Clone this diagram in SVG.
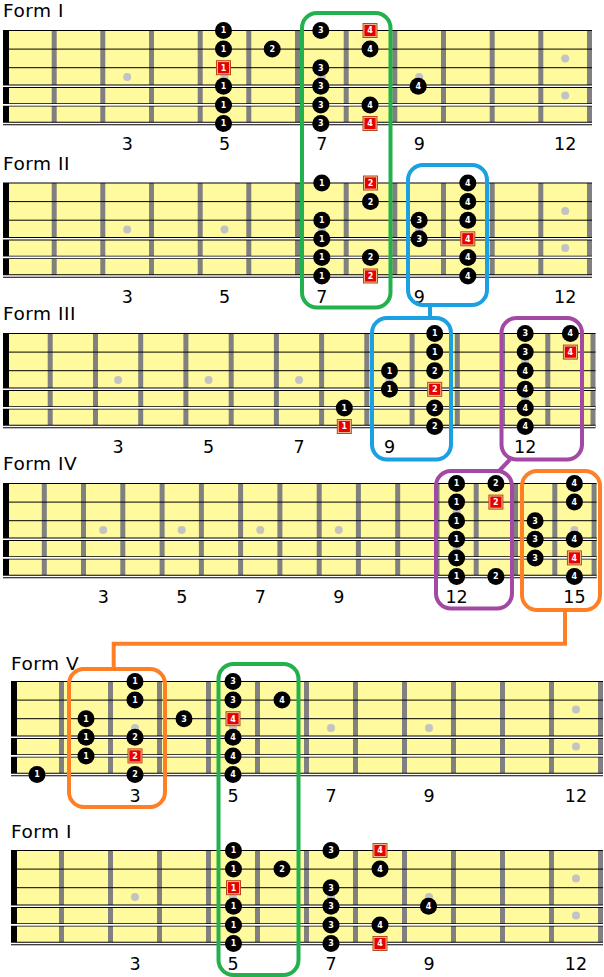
<svg xmlns="http://www.w3.org/2000/svg" xmlns:xlink="http://www.w3.org/1999/xlink" width="604" height="977" viewBox="0 0 604 977">
<style>
.bg{fill:#fff}
.bd{fill:#fffa9e}
.fr{stroke:#808080;stroke-width:5;fill:none}
.nut{fill:#000}
.mk{fill:#c3c3c3}
.s{stroke:#000;stroke-width:1;fill:none}
.w{stroke:#000;stroke-width:3.4;fill:none}
.wi{stroke:#fff;stroke-width:1.6;fill:none}
.t{font-family:"DejaVu Sans",Verdana,sans-serif;font-size:18.5px;letter-spacing:0.5px;fill:#000}
.n{font-family:"DejaVu Sans",Verdana,sans-serif;font-size:17.5px;text-anchor:middle;fill:#000}
.nd text{font-family:"DejaVu Sans",Verdana,sans-serif;font-size:8px;font-weight:bold;fill:#fff;text-anchor:middle}
.box{fill:none;stroke-width:4}
.g{stroke:#22b14c}
.b{stroke:#1ba1e2}
.p{stroke:#a349a4}
.o{stroke:#ff7f27}
</style>
<defs>
<circle id="dot" r="8.5" fill="#000"/>
<g id="sq"><rect x="-7" y="-7" width="14" height="14" fill="#f6c89a" stroke="#b8461a" stroke-width="1"/><rect x="-5.6" y="-5.6" width="11.2" height="11.2" fill="#e60000"/></g>
</defs>
<rect class="bg" x="0" y="0" width="604" height="977"/>

<!-- Form I (top) -->
<g id="form1-top">
<text class="t" x="3" y="17">Form I</text>
<rect class="bd" x="3" y="30.5" width="589" height="93"/>
<path class="fr" d="M54.2 30.5v93M102.8 30.5v93M151.5 30.5v93M200.2 30.5v93M248.8 30.5v93M297.5 30.5v93M346.2 30.5v93M394.8 30.5v93M443.5 30.5v93M492.2 30.5v93M540.8 30.5v93M589.5 30.5v93"/>
<g class="mk"><circle cx="127.2" cy="77" r="4"/><circle cx="224.5" cy="77" r="4"/><circle cx="321.8" cy="77" r="4"/><circle cx="419.2" cy="77" r="4"/><circle cx="565.2" cy="58.4" r="4"/><circle cx="565.2" cy="95.6" r="4"/></g>
<rect class="nut" x="3" y="30.5" width="6" height="93"/>
<path class="s" d="M3 30.5H592M3 49.1H592M3 67.7H592"/>
<path class="w" d="M3 86.3H592M3 104.9H592M3 123.5H592"/>
<path class="wi" d="M3 86.3H592M3 104.9H592M3 123.5H592"/>
<g class="n"><text x="127.2" y="150">3</text><text x="224.5" y="150">5</text><text x="321.8" y="150">7</text><text x="419.2" y="150">9</text><text x="565.2" y="150">12</text></g>
<g class="nd" transform="translate(223.5 30.5)"><use xlink:href="#dot"/><text y="2.9">1</text></g>
<g class="nd" transform="translate(223.5 49.1)"><use xlink:href="#dot"/><text y="2.9">1</text></g>
<g class="nd" transform="translate(223.5 67.7)"><use xlink:href="#sq"/><text y="2.9">1</text></g>
<g class="nd" transform="translate(223.5 86.3)"><use xlink:href="#dot"/><text y="2.9">1</text></g>
<g class="nd" transform="translate(223.5 104.9)"><use xlink:href="#dot"/><text y="2.9">1</text></g>
<g class="nd" transform="translate(223.5 123.5)"><use xlink:href="#dot"/><text y="2.9">1</text></g>
<g class="nd" transform="translate(272.2 49.1)"><use xlink:href="#dot"/><text y="2.9">2</text></g>
<g class="nd" transform="translate(320.8 30.5)"><use xlink:href="#dot"/><text y="2.9">3</text></g>
<g class="nd" transform="translate(320.8 67.7)"><use xlink:href="#dot"/><text y="2.9">3</text></g>
<g class="nd" transform="translate(320.8 86.3)"><use xlink:href="#dot"/><text y="2.9">3</text></g>
<g class="nd" transform="translate(320.8 104.9)"><use xlink:href="#dot"/><text y="2.9">3</text></g>
<g class="nd" transform="translate(320.8 123.5)"><use xlink:href="#dot"/><text y="2.9">3</text></g>
<g class="nd" transform="translate(370 30.5)"><use xlink:href="#sq"/><text y="2.9">4</text></g>
<g class="nd" transform="translate(370 49.1)"><use xlink:href="#dot"/><text y="2.9">4</text></g>
<g class="nd" transform="translate(370 104.9)"><use xlink:href="#dot"/><text y="2.9">4</text></g>
<g class="nd" transform="translate(370 123.5)"><use xlink:href="#sq"/><text y="2.9">4</text></g>
<g class="nd" transform="translate(418.2 86.3)"><use xlink:href="#dot"/><text y="2.9">4</text></g>
</g>

<!-- Form II -->
<g id="form2">
<text class="t" x="3" y="169.5">Form II</text>
<rect class="bd" x="3" y="183" width="589" height="93"/>
<path class="fr" d="M54.2 183v93M102.8 183v93M151.5 183v93M200.2 183v93M248.8 183v93M297.5 183v93M346.2 183v93M394.8 183v93M443.5 183v93M492.2 183v93M540.8 183v93M589.5 183v93"/>
<g class="mk"><circle cx="127.2" cy="229.5" r="4"/><circle cx="224.5" cy="229.5" r="4"/><circle cx="321.8" cy="229.5" r="4"/><circle cx="419.2" cy="229.5" r="4"/><circle cx="565.2" cy="210.9" r="4"/><circle cx="565.2" cy="248.1" r="4"/></g>
<rect class="nut" x="3" y="183" width="6" height="93"/>
<path class="s" d="M3 183H592M3 201.6H592M3 220.2H592"/>
<path class="w" d="M3 238.8H592M3 257.4H592M3 276H592"/>
<path class="wi" d="M3 238.8H592M3 257.4H592M3 276H592"/>
<g class="n"><text x="127.2" y="303">3</text><text x="224.5" y="303">5</text><text x="321.8" y="303">7</text><text x="419.2" y="303">9</text><text x="565.2" y="303">12</text></g>
<g class="nd" transform="translate(321.8 183)"><use xlink:href="#dot"/><text y="2.9">1</text></g>
<g class="nd" transform="translate(321.8 220.2)"><use xlink:href="#dot"/><text y="2.9">1</text></g>
<g class="nd" transform="translate(321.8 238.8)"><use xlink:href="#dot"/><text y="2.9">1</text></g>
<g class="nd" transform="translate(321.8 257.4)"><use xlink:href="#dot"/><text y="2.9">1</text></g>
<g class="nd" transform="translate(321.8 276)"><use xlink:href="#dot"/><text y="2.9">1</text></g>
<g class="nd" transform="translate(370.5 183)"><use xlink:href="#sq"/><text y="2.9">2</text></g>
<g class="nd" transform="translate(370.5 201.6)"><use xlink:href="#dot"/><text y="2.9">2</text></g>
<g class="nd" transform="translate(370.5 257.4)"><use xlink:href="#dot"/><text y="2.9">2</text></g>
<g class="nd" transform="translate(370.5 276)"><use xlink:href="#sq"/><text y="2.9">2</text></g>
<g class="nd" transform="translate(419.2 220.2)"><use xlink:href="#dot"/><text y="2.9">3</text></g>
<g class="nd" transform="translate(419.2 238.8)"><use xlink:href="#dot"/><text y="2.9">3</text></g>
<g class="nd" transform="translate(467.8 183)"><use xlink:href="#dot"/><text y="2.9">4</text></g>
<g class="nd" transform="translate(467.8 201.6)"><use xlink:href="#dot"/><text y="2.9">4</text></g>
<g class="nd" transform="translate(467.8 220.2)"><use xlink:href="#dot"/><text y="2.9">4</text></g>
<g class="nd" transform="translate(467.8 238.8)"><use xlink:href="#sq"/><text y="2.9">4</text></g>
<g class="nd" transform="translate(467.8 257.4)"><use xlink:href="#dot"/><text y="2.9">4</text></g>
<g class="nd" transform="translate(467.8 276)"><use xlink:href="#dot"/><text y="2.9">4</text></g>
</g>

<!-- Form III -->
<g id="form3">
<text class="t" x="3" y="320">Form III</text>
<rect class="bd" x="3" y="333.5" width="592.5" height="93"/>
<path class="fr" d="M50.2 333.5v93M95.5 333.5v93M140.7 333.5v93M185.9 333.5v93M231.2 333.5v93M276.4 333.5v93M321.6 333.5v93M366.8 333.5v93M412.1 333.5v93M457.3 333.5v93M502.5 333.5v93M547.8 333.5v93M593 333.5v93"/>
<g class="mk"><circle cx="118.1" cy="380" r="4"/><circle cx="208.6" cy="380" r="4"/><circle cx="299.1" cy="380" r="4"/><circle cx="389.5" cy="380" r="4"/><circle cx="525.2" cy="361.4" r="4"/><circle cx="525.2" cy="398.6" r="4"/></g>
<rect class="nut" x="3" y="333.5" width="6" height="93"/>
<path class="s" d="M3 333.5H595.5M3 352.1H595.5M3 370.7H595.5"/>
<path class="w" d="M3 389.3H595.5M3 407.9H595.5M3 426.5H595.5"/>
<path class="wi" d="M3 389.3H595.5M3 407.9H595.5M3 426.5H595.5"/>
<g class="n"><text x="118.1" y="453">3</text><text x="208.6" y="453">5</text><text x="299.1" y="453">7</text><text x="389.5" y="453">9</text><text x="525.2" y="453">12</text></g>
<g class="nd" transform="translate(344.3 407.9)"><use xlink:href="#dot"/><text y="2.9">1</text></g>
<g class="nd" transform="translate(344.3 426.5)"><use xlink:href="#sq"/><text y="2.9">1</text></g>
<g class="nd" transform="translate(389.5 370.7)"><use xlink:href="#dot"/><text y="2.9">1</text></g>
<g class="nd" transform="translate(389.5 389.3)"><use xlink:href="#dot"/><text y="2.9">1</text></g>
<g class="nd" transform="translate(434.7 333.5)"><use xlink:href="#dot"/><text y="2.9">1</text></g>
<g class="nd" transform="translate(434.7 352.1)"><use xlink:href="#dot"/><text y="2.9">1</text></g>
<g class="nd" transform="translate(434.7 370.7)"><use xlink:href="#dot"/><text y="2.9">2</text></g>
<g class="nd" transform="translate(434.7 389.3)"><use xlink:href="#sq"/><text y="2.9">2</text></g>
<g class="nd" transform="translate(434.7 407.9)"><use xlink:href="#dot"/><text y="2.9">2</text></g>
<g class="nd" transform="translate(434.7 426.5)"><use xlink:href="#dot"/><text y="2.9">2</text></g>
<g class="nd" transform="translate(525.2 333.5)"><use xlink:href="#dot"/><text y="2.9">3</text></g>
<g class="nd" transform="translate(525.2 352.1)"><use xlink:href="#dot"/><text y="2.9">3</text></g>
<g class="nd" transform="translate(525.2 370.7)"><use xlink:href="#dot"/><text y="2.9">4</text></g>
<g class="nd" transform="translate(525.2 389.3)"><use xlink:href="#dot"/><text y="2.9">4</text></g>
<g class="nd" transform="translate(525.2 407.9)"><use xlink:href="#dot"/><text y="2.9">4</text></g>
<g class="nd" transform="translate(525.2 426.5)"><use xlink:href="#dot"/><text y="2.9">4</text></g>
<g class="nd" transform="translate(570.4 333.5)"><use xlink:href="#dot"/><text y="2.9">4</text></g>
<g class="nd" transform="translate(570.4 352.1)"><use xlink:href="#sq"/><text y="2.9">4</text></g>
</g>

<!-- Form IV -->
<g id="form4">
<text class="t" x="3" y="470">Form IV</text>
<rect class="bd" x="3" y="483.5" width="593.6" height="93"/>
<path class="fr" d="M44.3 483.5v93M83.5 483.5v93M122.8 483.5v93M162.1 483.5v93M201.4 483.5v93M240.6 483.5v93M279.9 483.5v93M319.2 483.5v93M358.4 483.5v93M397.7 483.5v93M437 483.5v93M476.2 483.5v93M515.5 483.5v93M554.8 483.5v93M594.1 483.5v93"/>
<g class="mk"><circle cx="103.2" cy="530" r="4"/><circle cx="181.7" cy="530" r="4"/><circle cx="260.3" cy="530" r="4"/><circle cx="338.8" cy="530" r="4"/><circle cx="456.6" cy="511.4" r="4"/><circle cx="456.6" cy="548.6" r="4"/><circle cx="574.4" cy="530" r="4"/></g>
<rect class="nut" x="3" y="483.5" width="6" height="93"/>
<path class="s" d="M3 483.5H596.6M3 502.1H596.6M3 520.7H596.6"/>
<path class="w" d="M3 539.3H596.6M3 557.9H596.6M3 576.5H596.6"/>
<path class="wi" d="M3 539.3H596.6M3 557.9H596.6M3 576.5H596.6"/>
<g class="n"><text x="103.2" y="603">3</text><text x="181.7" y="603">5</text><text x="260.3" y="603">7</text><text x="338.8" y="603">9</text><text x="456.6" y="603">12</text><text x="574.4" y="603">15</text></g>
<g class="nd" transform="translate(456.6 483.5)"><use xlink:href="#dot"/><text y="2.9">1</text></g>
<g class="nd" transform="translate(456.6 502.1)"><use xlink:href="#dot"/><text y="2.9">1</text></g>
<g class="nd" transform="translate(456.6 520.7)"><use xlink:href="#dot"/><text y="2.9">1</text></g>
<g class="nd" transform="translate(456.6 539.3)"><use xlink:href="#dot"/><text y="2.9">1</text></g>
<g class="nd" transform="translate(456.6 557.9)"><use xlink:href="#dot"/><text y="2.9">1</text></g>
<g class="nd" transform="translate(456.6 576.5)"><use xlink:href="#dot"/><text y="2.9">1</text></g>
<g class="nd" transform="translate(495.9 483.5)"><use xlink:href="#dot"/><text y="2.9">2</text></g>
<g class="nd" transform="translate(495.9 502.1)"><use xlink:href="#sq"/><text y="2.9">2</text></g>
<g class="nd" transform="translate(495.9 576.5)"><use xlink:href="#dot"/><text y="2.9">2</text></g>
<g class="nd" transform="translate(535.1 520.7)"><use xlink:href="#dot"/><text y="2.9">3</text></g>
<g class="nd" transform="translate(535.1 539.3)"><use xlink:href="#dot"/><text y="2.9">3</text></g>
<g class="nd" transform="translate(535.1 557.9)"><use xlink:href="#dot"/><text y="2.9">3</text></g>
<g class="nd" transform="translate(574.4 483.5)"><use xlink:href="#dot"/><text y="2.9">4</text></g>
<g class="nd" transform="translate(574.4 502.1)"><use xlink:href="#dot"/><text y="2.9">4</text></g>
<g class="nd" transform="translate(574.4 539.3)"><use xlink:href="#dot"/><text y="2.9">4</text></g>
<g class="nd" transform="translate(574.4 557.9)"><use xlink:href="#sq"/><text y="2.9">4</text></g>
<g class="nd" transform="translate(574.4 576.5)"><use xlink:href="#dot"/><text y="2.9">4</text></g>
</g>

<!-- Form V -->
<g id="form5">
<text class="t" x="11" y="670">Form V</text>
<rect class="bd" x="11" y="681.5" width="592" height="93"/>
<path class="fr" d="M61.5 681.5v93M110.5 681.5v93M159.5 681.5v93M208.5 681.5v93M257.5 681.5v93M306.5 681.5v93M355.5 681.5v93M404.5 681.5v93M453.5 681.5v93M502.5 681.5v93M551.5 681.5v93M600.5 681.5v93"/>
<g class="mk"><circle cx="135" cy="728" r="4"/><circle cx="233" cy="728" r="4"/><circle cx="331" cy="728" r="4"/><circle cx="429" cy="728" r="4"/><circle cx="576" cy="709.4" r="4"/><circle cx="576" cy="746.6" r="4"/></g>
<rect class="nut" x="11" y="681.5" width="6" height="93"/>
<path class="s" d="M11 681.5H603M11 700.1H603M11 718.7H603"/>
<path class="w" d="M11 737.3H603M11 755.9H603M11 774.5H603"/>
<path class="wi" d="M11 737.3H603M11 755.9H603M11 774.5H603"/>
<g class="n"><text x="135" y="802">3</text><text x="233" y="802">5</text><text x="331" y="802">7</text><text x="429" y="802">9</text><text x="576" y="802">12</text></g>
<g class="nd" transform="translate(37 774.5)"><use xlink:href="#dot"/><text y="2.9">1</text></g>
<g class="nd" transform="translate(86 718.7)"><use xlink:href="#dot"/><text y="2.9">1</text></g>
<g class="nd" transform="translate(86 737.3)"><use xlink:href="#dot"/><text y="2.9">1</text></g>
<g class="nd" transform="translate(86 755.9)"><use xlink:href="#dot"/><text y="2.9">1</text></g>
<g class="nd" transform="translate(135 681.5)"><use xlink:href="#dot"/><text y="2.9">1</text></g>
<g class="nd" transform="translate(135 700.1)"><use xlink:href="#dot"/><text y="2.9">1</text></g>
<g class="nd" transform="translate(135 737.3)"><use xlink:href="#dot"/><text y="2.9">2</text></g>
<g class="nd" transform="translate(135 755.9)"><use xlink:href="#sq"/><text y="2.9">2</text></g>
<g class="nd" transform="translate(135 774.5)"><use xlink:href="#dot"/><text y="2.9">2</text></g>
<g class="nd" transform="translate(184 718.7)"><use xlink:href="#dot"/><text y="2.9">3</text></g>
<g class="nd" transform="translate(233 681.5)"><use xlink:href="#dot"/><text y="2.9">3</text></g>
<g class="nd" transform="translate(233 700.1)"><use xlink:href="#dot"/><text y="2.9">3</text></g>
<g class="nd" transform="translate(233 718.7)"><use xlink:href="#sq"/><text y="2.9">4</text></g>
<g class="nd" transform="translate(233 737.3)"><use xlink:href="#dot"/><text y="2.9">4</text></g>
<g class="nd" transform="translate(233 755.9)"><use xlink:href="#dot"/><text y="2.9">4</text></g>
<g class="nd" transform="translate(233 774.5)"><use xlink:href="#dot"/><text y="2.9">4</text></g>
<g class="nd" transform="translate(282 700.1)"><use xlink:href="#dot"/><text y="2.9">4</text></g>
</g>

<!-- Form I (bottom) -->
<g id="form1-bottom">
<text class="t" x="11" y="837.5">Form I</text>
<rect class="bd" x="11" y="850.5" width="592" height="93"/>
<path class="fr" d="M61.5 850.5v93M110.5 850.5v93M159.5 850.5v93M208.5 850.5v93M257.5 850.5v93M306.5 850.5v93M355.5 850.5v93M404.5 850.5v93M453.5 850.5v93M502.5 850.5v93M551.5 850.5v93M600.5 850.5v93"/>
<g class="mk"><circle cx="135" cy="897" r="4"/><circle cx="233" cy="897" r="4"/><circle cx="331" cy="897" r="4"/><circle cx="429" cy="897" r="4"/><circle cx="576" cy="878.4" r="4"/><circle cx="576" cy="915.6" r="4"/></g>
<rect class="nut" x="11" y="850.5" width="6" height="93"/>
<path class="s" d="M11 850.5H603M11 869.1H603M11 887.7H603"/>
<path class="w" d="M11 906.3H603M11 924.9H603M11 943.5H603"/>
<path class="wi" d="M11 906.3H603M11 924.9H603M11 943.5H603"/>
<g class="n"><text x="135" y="970">3</text><text x="233" y="970">5</text><text x="331" y="970">7</text><text x="429" y="970">9</text><text x="576" y="970">12</text></g>
<g class="nd" transform="translate(233.5 850.5)"><use xlink:href="#dot"/><text y="2.9">1</text></g>
<g class="nd" transform="translate(233.5 869.1)"><use xlink:href="#dot"/><text y="2.9">1</text></g>
<g class="nd" transform="translate(233.5 887.7)"><use xlink:href="#sq"/><text y="2.9">1</text></g>
<g class="nd" transform="translate(233.5 906.3)"><use xlink:href="#dot"/><text y="2.9">1</text></g>
<g class="nd" transform="translate(233.5 924.9)"><use xlink:href="#dot"/><text y="2.9">1</text></g>
<g class="nd" transform="translate(233.5 943.5)"><use xlink:href="#dot"/><text y="2.9">1</text></g>
<g class="nd" transform="translate(282 869.1)"><use xlink:href="#dot"/><text y="2.9">2</text></g>
<g class="nd" transform="translate(331 850.5)"><use xlink:href="#dot"/><text y="2.9">3</text></g>
<g class="nd" transform="translate(331 887.7)"><use xlink:href="#dot"/><text y="2.9">3</text></g>
<g class="nd" transform="translate(331 906.3)"><use xlink:href="#dot"/><text y="2.9">3</text></g>
<g class="nd" transform="translate(331 924.9)"><use xlink:href="#dot"/><text y="2.9">3</text></g>
<g class="nd" transform="translate(331 943.5)"><use xlink:href="#dot"/><text y="2.9">3</text></g>
<g class="nd" transform="translate(380 850.5)"><use xlink:href="#sq"/><text y="2.9">4</text></g>
<g class="nd" transform="translate(380 869.1)"><use xlink:href="#dot"/><text y="2.9">4</text></g>
<g class="nd" transform="translate(380 924.9)"><use xlink:href="#dot"/><text y="2.9">4</text></g>
<g class="nd" transform="translate(380 943.5)"><use xlink:href="#sq"/><text y="2.9">4</text></g>
<g class="nd" transform="translate(428.5 906.3)"><use xlink:href="#dot"/><text y="2.9">4</text></g>
</g>

<!-- highlight boxes -->
<g id="boxes">
<rect id="box-green-1" class="box g" x="302" y="13" width="88.5" height="294.5" rx="15"/>
<rect id="box-blue-1" class="box b" x="408" y="165" width="79" height="140" rx="15"/>
<rect id="box-blue-2" class="box b" x="372" y="318" width="79" height="141.5" rx="15"/>
<rect id="box-purple-1" class="box p" x="501.5" y="318" width="80.5" height="141.5" rx="15"/>
<rect id="box-purple-2" class="box p" x="436" y="471" width="76" height="137.5" rx="15"/>
<rect id="box-orange-1" class="box o" x="522" y="471" width="78" height="139" rx="15"/>
<rect id="box-orange-2" class="box o" x="69" y="669" width="96" height="138" rx="15"/>
<rect id="box-green-2" class="box g" x="218.5" y="664" width="80" height="311" rx="15"/>
</g>

<!-- connectors -->
<g id="connectors" fill="none" stroke-width="4">
<path class="b" d="M430 305V318"/>
<path class="p" d="M510 459.5L499 471"/>
<path class="o" d="M565 610V643.7H113.7V669"/>
</g>
</svg>
